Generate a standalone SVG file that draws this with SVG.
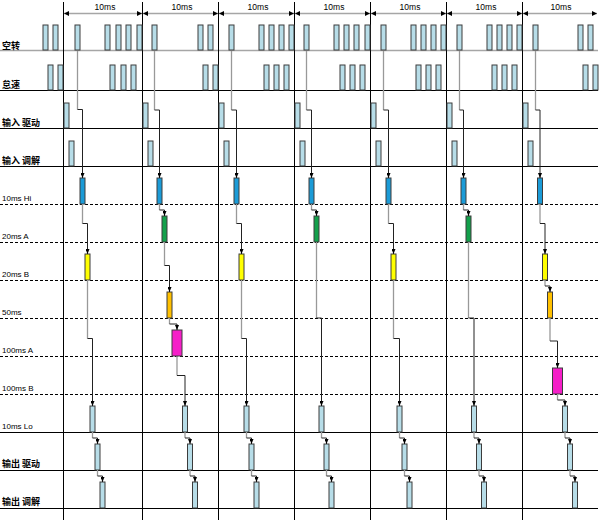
<svg xmlns="http://www.w3.org/2000/svg" width="606" height="524" viewBox="0 0 606 524">
<style>
.bg{fill:#fff}
.div{stroke:#000;stroke-width:1}
.rl{stroke:#000;stroke-width:1}
.rg{stroke:#a6a6a6;stroke-width:1.5}
.rd{stroke:#000;stroke-width:1;stroke-dasharray:3,2}
.p{fill:#b7dde8;stroke:#3c3c3c;stroke-width:1}
.b{stroke:#3c3c3c;stroke-width:1}
.hi{fill:#1b9bd7}.gr{fill:#13a04b}.ye{fill:#ffff00}.or{fill:#ffc000}.mg{fill:#f51fc8}
.lbl{font-family:"Liberation Sans",Arial,sans-serif;font-size:8px;fill:#000}
.cjk{font-family:"Noto Sans CJK SC","Noto Sans CJK JP",sans-serif;font-size:9px;font-weight:bold;fill:#000}
.hdr{font-family:"Liberation Sans",Arial,sans-serif;font-size:8.5px;fill:#000;text-anchor:middle}
.ha{stroke:#a6a6a6;stroke-width:1.5;fill:none}
.c1{stroke:#999;stroke-width:1.3;fill:none}
.c2{stroke:#222;stroke-width:1;fill:none}
</style>
<defs>
<marker id="ar" markerWidth="5" markerHeight="4" refX="5" refY="2" orient="auto" markerUnits="userSpaceOnUse"><path d="M0,0 L5,2 L0,4z" fill="#000"/></marker>
<marker id="hr" markerWidth="5" markerHeight="5" refX="5" refY="2.5" orient="auto" markerUnits="userSpaceOnUse"><path d="M0,0 L5,2.5 L0,5z" fill="#000"/></marker>
<marker id="hl" markerWidth="5" markerHeight="5" refX="0" refY="2.5" orient="auto" markerUnits="userSpaceOnUse"><path d="M5,0 L0,2.5 L5,5z" fill="#000"/></marker>
</defs>
<rect class="bg" x="0" y="0" width="606" height="524"/>

<g id="grid">
<line class="rg" x1="0" y1="50.5" x2="598" y2="50.5"/>
<line class="rl" x1="0" y1="90.5" x2="598" y2="90.5"/>
<line class="rl" x1="0" y1="128.5" x2="598" y2="128.5"/>
<line class="rl" x1="0" y1="166.5" x2="598" y2="166.5"/>
<line class="rd" x1="0" y1="204.5" x2="598" y2="204.5"/>
<line class="rd" x1="0" y1="242.5" x2="598" y2="242.5"/>
<line class="rd" x1="0" y1="280.5" x2="598" y2="280.5"/>
<line class="rd" x1="0" y1="318.5" x2="598" y2="318.5"/>
<line class="rd" x1="0" y1="356.5" x2="598" y2="356.5"/>
<line class="rd" x1="0" y1="394.5" x2="598" y2="394.5"/>
<line class="rl" x1="0" y1="432.5" x2="598" y2="432.5"/>
<line class="rl" x1="0" y1="470.5" x2="598" y2="470.5"/>
<line class="rl" x1="0" y1="508.5" x2="598" y2="508.5"/>
<line class="div" x1="63.5" y1="2" x2="63.5" y2="520"/>
<line class="div" x1="142.5" y1="2" x2="142.5" y2="520"/>
<line class="div" x1="218.5" y1="2" x2="218.5" y2="520"/>
<line class="div" x1="294.5" y1="2" x2="294.5" y2="520"/>
<line class="div" x1="370.5" y1="2" x2="370.5" y2="520"/>
<line class="div" x1="446.5" y1="2" x2="446.5" y2="520"/>
<line class="div" x1="522.5" y1="2" x2="522.5" y2="520"/>
</g>

<g id="header">
<line class="ha" x1="64" y1="13.5" x2="142" y2="13.5" marker-start="url(#hl)" marker-end="url(#hr)"/>
<line class="ha" x1="143" y1="13.5" x2="218" y2="13.5" marker-start="url(#hl)" marker-end="url(#hr)"/>
<line class="ha" x1="219" y1="13.5" x2="294" y2="13.5" marker-start="url(#hl)" marker-end="url(#hr)"/>
<line class="ha" x1="295" y1="13.5" x2="370" y2="13.5" marker-start="url(#hl)" marker-end="url(#hr)"/>
<line class="ha" x1="371" y1="13.5" x2="446" y2="13.5" marker-start="url(#hl)" marker-end="url(#hr)"/>
<line class="ha" x1="447" y1="13.5" x2="522" y2="13.5" marker-start="url(#hl)" marker-end="url(#hr)"/>
<line class="ha" x1="523" y1="13.5" x2="597" y2="13.5" marker-start="url(#hl)" marker-end="url(#hr)"/>
<text class="hdr" x="105" y="10">10ms</text>
<text class="hdr" x="182" y="10">10ms</text>
<text class="hdr" x="258" y="10">10ms</text>
<text class="hdr" x="334" y="10">10ms</text>
<text class="hdr" x="410" y="10">10ms</text>
<text class="hdr" x="486" y="10">10ms</text>
<text class="hdr" x="561" y="10">10ms</text>
</g>

<g id="labels">
<text class="cjk" x="2" y="49">空转</text>
<text class="cjk" x="2" y="88">怠速</text>
<text class="cjk" x="2" y="126">输入 驱动</text>
<text class="cjk" x="2" y="164">输入 调解</text>
<text class="lbl" x="2" y="201">10ms Hi</text>
<text class="lbl" x="2" y="239">20ms A</text>
<text class="lbl" x="2" y="277">20ms B</text>
<text class="lbl" x="2" y="315">50ms</text>
<text class="lbl" x="2" y="353">100ms A</text>
<text class="lbl" x="2" y="391">100ms B</text>
<text class="lbl" x="2" y="429">10ms Lo</text>
<text class="cjk" x="2" y="467">输出 驱动</text>
<text class="cjk" x="2" y="505">输出 调解</text>
</g>

<g id="row1-pulses">
<rect class="p" x="43" y="25" width="5" height="25"/>
<rect class="p" x="53" y="25" width="5" height="25"/>
<rect class="p" x="75" y="25" width="5" height="25"/>
<rect class="p" x="105" y="25" width="5" height="25"/>
<rect class="p" x="116" y="25" width="5" height="25"/>
<rect class="p" x="126" y="25" width="5" height="25"/>
<rect class="p" x="137" y="25" width="5" height="25"/>
<rect class="p" x="152" y="25" width="5" height="25"/>
<rect class="p" x="198" y="25" width="5" height="25"/>
<rect class="p" x="208" y="25" width="5" height="25"/>
<rect class="p" x="229" y="25" width="5" height="25"/>
<rect class="p" x="259" y="25" width="5" height="25"/>
<rect class="p" x="269" y="25" width="5" height="25"/>
<rect class="p" x="279" y="25" width="5" height="25"/>
<rect class="p" x="289" y="25" width="5" height="25"/>
<rect class="p" x="304" y="25" width="5" height="25"/>
<rect class="p" x="334" y="25" width="5" height="25"/>
<rect class="p" x="344" y="25" width="5" height="25"/>
<rect class="p" x="354" y="25" width="5" height="25"/>
<rect class="p" x="365" y="25" width="5" height="25"/>
<rect class="p" x="381" y="25" width="5" height="25"/>
<rect class="p" x="411" y="25" width="5" height="25"/>
<rect class="p" x="421" y="25" width="5" height="25"/>
<rect class="p" x="431" y="25" width="5" height="25"/>
<rect class="p" x="441" y="25" width="5" height="25"/>
<rect class="p" x="457" y="25" width="5" height="25"/>
<rect class="p" x="487" y="25" width="5" height="25"/>
<rect class="p" x="497" y="25" width="5" height="25"/>
<rect class="p" x="507" y="25" width="5" height="25"/>
<rect class="p" x="517" y="25" width="5" height="25"/>
<rect class="p" x="533" y="25" width="5" height="25"/>
<rect class="p" x="578" y="25" width="5" height="25"/>
<rect class="p" x="588" y="25" width="5" height="25"/>
</g>

<g id="row2-pulses">
<rect class="p" x="48" y="65" width="5" height="25"/>
<rect class="p" x="58" y="65" width="5" height="25"/>
<rect class="p" x="110" y="65" width="5" height="25"/>
<rect class="p" x="121" y="65" width="5" height="25"/>
<rect class="p" x="131" y="65" width="5" height="25"/>
<rect class="p" x="203" y="65" width="5" height="25"/>
<rect class="p" x="213" y="65" width="5" height="25"/>
<rect class="p" x="264" y="65" width="5" height="25"/>
<rect class="p" x="274" y="65" width="5" height="25"/>
<rect class="p" x="284" y="65" width="5" height="25"/>
<rect class="p" x="340" y="65" width="5" height="25"/>
<rect class="p" x="350" y="65" width="5" height="25"/>
<rect class="p" x="360" y="65" width="5" height="25"/>
<rect class="p" x="416" y="65" width="5" height="25"/>
<rect class="p" x="426" y="65" width="5" height="25"/>
<rect class="p" x="436" y="65" width="5" height="25"/>
<rect class="p" x="492" y="65" width="5" height="25"/>
<rect class="p" x="502" y="65" width="5" height="25"/>
<rect class="p" x="512" y="65" width="5" height="25"/>
<rect class="p" x="583" y="65" width="5" height="25"/>
<rect class="p" x="593" y="65" width="5" height="25"/>
</g>

<g id="row3-input-drive">
<rect class="p" x="64" y="103" width="5" height="25"/>
<rect class="p" x="143" y="103" width="5" height="25"/>
<rect class="p" x="219" y="103" width="5" height="25"/>
<rect class="p" x="295" y="103" width="5" height="25"/>
<rect class="p" x="371" y="103" width="5" height="25"/>
<rect class="p" x="447" y="103" width="5" height="25"/>
<rect class="p" x="523" y="103" width="5" height="25"/>
</g>
<g id="row4-input-adjust">
<rect class="p" x="69" y="141" width="5" height="25"/>
<rect class="p" x="148" y="141" width="5" height="25"/>
<rect class="p" x="224" y="141" width="5" height="25"/>
<rect class="p" x="300" y="141" width="5" height="25"/>
<rect class="p" x="376" y="141" width="5" height="25"/>
<rect class="p" x="452" y="141" width="5" height="25"/>
<rect class="p" x="528" y="141" width="5" height="25"/>
</g>

<!-- Period 1 -->
<g id="p1-hi"><rect class="b hi" x="80" y="178" width="5" height="26"/></g>
<g id="p1-20b"><rect class="b ye" x="85" y="254" width="5" height="26"/></g>
<g id="p1-lo"><rect class="p" x="90" y="406" width="5" height="26"/></g>
<g id="p1-od"><rect class="p" x="95" y="444" width="5" height="26"/></g>
<g id="p1-oa"><rect class="p" x="100" y="482" width="5" height="26"/></g>
<!-- Period 2 -->
<g id="p2-hi"><rect class="b hi" x="157" y="178" width="5" height="26"/></g>
<g id="p2-20a"><rect class="b gr" x="162" y="216" width="5" height="26"/></g>
<g id="p2-50"><rect class="b or" x="167" y="292" width="5" height="26"/></g>
<g id="p2-100a"><rect class="b mg" x="172" y="330" width="10" height="26"/></g>
<g id="p2-lo"><rect class="p" x="182.5" y="406" width="5" height="26"/></g>
<g id="p2-od"><rect class="p" x="187.5" y="444" width="5" height="26"/></g>
<g id="p2-oa"><rect class="p" x="192.5" y="482" width="5" height="26"/></g>
<!-- Period 3 -->
<g id="p3-hi"><rect class="b hi" x="234" y="178" width="5" height="26"/></g>
<g id="p3-20b"><rect class="b ye" x="239" y="254" width="5" height="26"/></g>
<g id="p3-lo"><rect class="p" x="244" y="406" width="5" height="26"/></g>
<g id="p3-od"><rect class="p" x="249" y="444" width="5" height="26"/></g>
<g id="p3-oa"><rect class="p" x="254" y="482" width="5" height="26"/></g>
<!-- Period 4 -->
<g id="p4-hi"><rect class="b hi" x="309" y="178" width="5" height="26"/></g>
<g id="p4-20a"><rect class="b gr" x="314" y="216" width="5" height="26"/></g>
<g id="p4-lo"><rect class="p" x="319" y="406" width="5" height="26"/></g>
<g id="p4-od"><rect class="p" x="324" y="444" width="5" height="26"/></g>
<g id="p4-oa"><rect class="p" x="329" y="482" width="5" height="26"/></g>
<!-- Period 5 -->
<g id="p5-hi"><rect class="b hi" x="386" y="178" width="5" height="26"/></g>
<g id="p5-20b"><rect class="b ye" x="391" y="254" width="5" height="26"/></g>
<g id="p5-lo"><rect class="p" x="397" y="406" width="5" height="26"/></g>
<g id="p5-od"><rect class="p" x="402" y="444" width="5" height="26"/></g>
<g id="p5-oa"><rect class="p" x="407" y="482" width="5" height="26"/></g>
<!-- Period 6 -->
<g id="p6-hi"><rect class="b hi" x="461" y="178" width="5" height="26"/></g>
<g id="p6-20a"><rect class="b gr" x="466" y="216" width="5" height="26"/></g>
<g id="p6-lo"><rect class="p" x="471.5" y="406" width="5" height="26"/></g>
<g id="p6-od"><rect class="p" x="476.5" y="444" width="5" height="26"/></g>
<g id="p6-oa"><rect class="p" x="481.5" y="482" width="5" height="26"/></g>
<!-- Period 7 -->
<g id="p7-hi"><rect class="b hi" x="537.5" y="178" width="5" height="26"/></g>
<g id="p7-20b"><rect class="b ye" x="542.5" y="254" width="5" height="26"/></g>
<g id="p7-50"><rect class="b or" x="547.5" y="292" width="5" height="26"/></g>
<g id="p7-100b"><rect class="b mg" x="552.5" y="368" width="10" height="26"/></g>
<g id="p7-lo"><rect class="p" x="562.5" y="406" width="5" height="26"/></g>
<g id="p7-od"><rect class="p" x="567.5" y="444" width="5" height="26"/></g>
<g id="p7-oa"><rect class="p" x="572.5" y="482" width="5" height="26"/></g>

<g id="connectors">
<!-- P1 -->
<path class="c1" d="M77.5,51 V109.5"/><path class="c2" d="M77.5,109.5 H82.5 V178" marker-end="url(#ar)"/>
<path class="c1" d="M82.5,204 V223.5"/><path class="c2" d="M82.5,223.5 H87.5 V254" marker-end="url(#ar)"/>
<path class="c1" d="M87.5,280 V338.5"/><path class="c2" d="M87.5,338.5 H92.5 V406" marker-end="url(#ar)"/>
<path class="c1" d="M92.5,432 V438"/><path class="c2" d="M92.5,438 H97.5 V444" marker-end="url(#ar)"/>
<path class="c1" d="M97.5,470 V476"/><path class="c2" d="M97.5,476 H102.5 V482" marker-end="url(#ar)"/>
<!-- P2 -->
<path class="c1" d="M154.5,51 V110"/><path class="c2" d="M154.5,110 H159.5 V178" marker-end="url(#ar)"/>
<path class="c1" d="M159.5,204 V210"/><path class="c2" d="M159.5,210 H164.5 V216" marker-end="url(#ar)"/>
<path class="c1" d="M164.5,242 V265.5"/><path class="c2" d="M164.5,265.5 H169.5 V292" marker-end="url(#ar)"/>
<path class="c1" d="M169.5,318 V324"/><path class="c2" d="M169.5,324 H177 V330" marker-end="url(#ar)"/>
<path class="c1" d="M177,356 V375.5"/><path class="c2" d="M177,375.5 H185 V406" marker-end="url(#ar)"/>
<path class="c1" d="M185,432 V438"/><path class="c2" d="M185,438 H190 V444" marker-end="url(#ar)"/>
<path class="c1" d="M190,470 V476"/><path class="c2" d="M190,476 H195 V482" marker-end="url(#ar)"/>
<!-- P3 -->
<path class="c1" d="M231.5,51 V110"/><path class="c2" d="M231.5,110 H236.5 V178" marker-end="url(#ar)"/>
<path class="c1" d="M236.5,204 V223.5"/><path class="c2" d="M236.5,223.5 H241.5 V254" marker-end="url(#ar)"/>
<path class="c1" d="M241.5,280 V338.5"/><path class="c2" d="M241.5,338.5 H246.5 V406" marker-end="url(#ar)"/>
<path class="c1" d="M246.5,432 V438"/><path class="c2" d="M246.5,438 H251.5 V444" marker-end="url(#ar)"/>
<path class="c1" d="M251.5,470 V476"/><path class="c2" d="M251.5,476 H256.5 V482" marker-end="url(#ar)"/>
<!-- P4 -->
<path class="c1" d="M306.5,51 V110"/><path class="c2" d="M306.5,110 H311.5 V178" marker-end="url(#ar)"/>
<path class="c1" d="M311.5,204 V210"/><path class="c2" d="M311.5,210 H316.5 V216" marker-end="url(#ar)"/>
<path class="c1" d="M316.5,242 V318"/><path class="c2" d="M316.5,318 H321.5 V406" marker-end="url(#ar)"/>
<path class="c1" d="M321.5,432 V438"/><path class="c2" d="M321.5,438 H326.5 V444" marker-end="url(#ar)"/>
<path class="c1" d="M326.5,470 V476"/><path class="c2" d="M326.5,476 H331.5 V482" marker-end="url(#ar)"/>
<!-- P5 -->
<path class="c1" d="M383.5,51 V110"/><path class="c2" d="M383.5,110 H388.5 V178" marker-end="url(#ar)"/>
<path class="c1" d="M388.5,204 V223.5"/><path class="c2" d="M388.5,223.5 H393.5 V254" marker-end="url(#ar)"/>
<path class="c1" d="M393.5,280 V338.5"/><path class="c2" d="M393.5,338.5 H399.5 V406" marker-end="url(#ar)"/>
<path class="c1" d="M399.5,432 V438"/><path class="c2" d="M399.5,438 H404.5 V444" marker-end="url(#ar)"/>
<path class="c1" d="M404.5,470 V476"/><path class="c2" d="M404.5,476 H409.5 V482" marker-end="url(#ar)"/>
<!-- P6 -->
<path class="c1" d="M459.5,51 V110"/><path class="c2" d="M459.5,110 H463.5 V178" marker-end="url(#ar)"/>
<path class="c1" d="M463.5,204 V210"/><path class="c2" d="M463.5,210 H468.5 V216" marker-end="url(#ar)"/>
<path class="c1" d="M468.5,242 V318"/><path class="c2" d="M468.5,318 H474 V406" marker-end="url(#ar)"/>
<path class="c1" d="M474,432 V438"/><path class="c2" d="M474,438 H479 V444" marker-end="url(#ar)"/>
<path class="c1" d="M479,470 V476"/><path class="c2" d="M479,476 H484 V482" marker-end="url(#ar)"/>
<!-- P7 -->
<path class="c1" d="M535.5,51 V110"/><path class="c2" d="M535.5,110 H540 V178" marker-end="url(#ar)"/>
<path class="c1" d="M540,204 V223.5"/><path class="c2" d="M540,223.5 H545 V254" marker-end="url(#ar)"/>
<path class="c1" d="M545,280 V286"/><path class="c2" d="M545,286 H550 V292" marker-end="url(#ar)"/>
<path class="c1" d="M550,318 V341"/><path class="c2" d="M550,341 H557.5 V368" marker-end="url(#ar)"/>
<path class="c1" d="M557.5,394 V400"/><path class="c2" d="M557.5,400 H565 V406" marker-end="url(#ar)"/>
<path class="c1" d="M565,432 V438"/><path class="c2" d="M565,438 H570 V444" marker-end="url(#ar)"/>
<path class="c1" d="M570,470 V476"/><path class="c2" d="M570,476 H575 V482" marker-end="url(#ar)"/>
</g>
</svg>
